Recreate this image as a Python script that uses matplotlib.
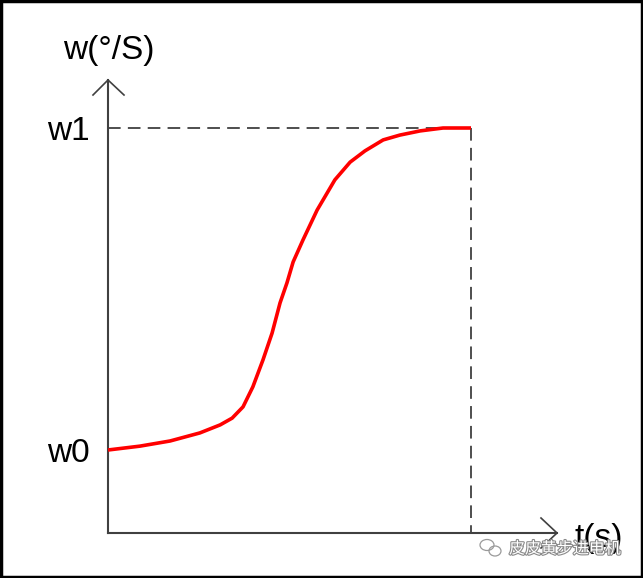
import matplotlib
matplotlib.use('Agg')
import matplotlib.pyplot as plt
from matplotlib.patches import Rectangle, Ellipse
import matplotlib.patheffects as pe

# curve: t normalised 0..1, w normalised (w0 = 0, w1 = 1)
t = [0.0, 0.088, 0.171, 0.253, 0.309, 0.342, 0.372, 0.399, 0.427, 0.452, 0.474,
     0.493, 0.510, 0.537, 0.576, 0.625, 0.667, 0.708, 0.758, 0.804, 0.860, 0.923, 1.0]
w = [0.0, 0.012, 0.028, 0.053, 0.078, 0.099, 0.134, 0.196, 0.280, 0.363, 0.457,
     0.519, 0.584, 0.652, 0.745, 0.839, 0.894, 0.929, 0.963, 0.978, 0.991, 1.0, 1.0]

y_label = 'w(°/S)'
x_label = 't(s)'
level_labels = ['w0', 'w1']
level_values = [0.0, 1.0]
watermark = '皮皮黄步进电机'

W, H = 643, 578
fig = plt.figure(figsize=(W / 100, H / 100), dpi=100)
ax = fig.add_axes([0, 0, 1, 1])

# pixel layout: t=0 at x=108, t=1 at x=471 ; w=0 at y=450, w=1 at y=128
sx = 471 - 108
sy = 450 - 128
ax.set_xlim(-108 / sx, (W - 108) / sx)
ax.set_ylim(-(H - 450) / sy, 450 / sy)
ax.axis('off')

def px(x):
    return (x - 108) / sx

def py(y):
    return (450 - y) / sy

axis_col = '#404040'
y0 = py(533)

# axes
ax.plot([0, 0], [y0, py(80)], color=axis_col, lw=1.5)
ax.plot([0, px(557)], [y0, y0], color=axis_col, lw=1.5)
# arrow heads
ax.plot([px(93), 0, px(124)], [py(95), py(80), py(95)], color=axis_col, lw=1.2)
ax.plot([px(541), px(557), px(541)], [py(518), y0, py(548)], color=axis_col, lw=1.2)

# dashed guides
ax.plot([0, t[-1]], [level_values[1], level_values[1]], color=axis_col, lw=1.3,
        dashes=(7, 4))
ax.plot([t[-1], t[-1]], [level_values[1], y0], color=axis_col, lw=1.3,
        dashes=(7, 4))

# curve
ax.plot(t, w, color='#ff0000', lw=2.6, solid_capstyle='butt', solid_joinstyle='round')

font = 'Liberation Sans'
for lab, v in zip(level_labels, level_values):
    ax.text(px(90), v - 4 / sy, lab, fontsize=24, family=font, ha='right', va='center')
ax.text(px(109), py(51), y_label, fontsize=24, family=font, ha='center', va='center')
ax.text(px(599), py(538), x_label, fontsize=24, family=font, ha='center', va='center')

# watermark
ax.text(px(509), py(549), watermark, fontsize=11.5, style='italic',
        family=['Noto Sans CJK SC', 'DejaVu Sans'], color='white', ha='left', va='center',
        path_effects=[pe.withStroke(linewidth=1.6, foreground='#8a8a8a')])
ax.add_patch(Ellipse((px(487), py(545)), 14 / sx, 11 / sy, fill=False, ec='#9a9a9a', lw=0.9))
ax.add_patch(Ellipse((px(495), py(551)), 12 / sx, 10 / sy, fill=False, ec='#9a9a9a', lw=0.9))

# outer frame
fig.patches.append(Rectangle((0.002, 0.002), 0.996, 0.996, transform=fig.transFigure,
                             fill=False, ec='black', lw=2.5))

fig.savefig('out.png', dpi=100)
